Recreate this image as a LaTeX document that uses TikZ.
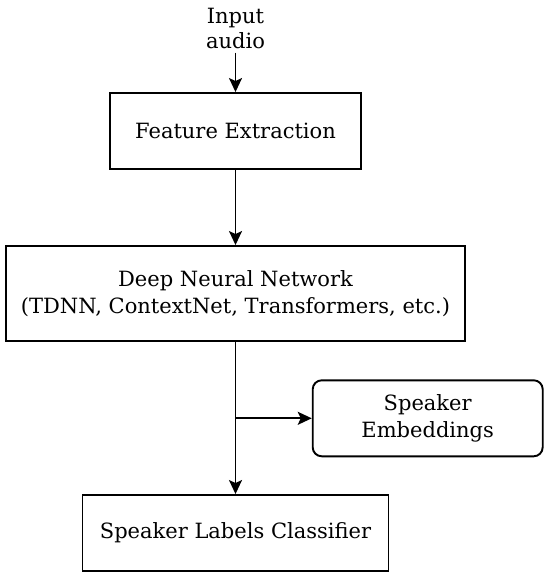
\documentclass[tikz,border=0pt]{standalone}
\usepackage{fontspec}
\setmainfont{DejaVu Serif}
\usetikzlibrary{arrows.meta,calc}
\begin{document}
\begin{tikzpicture}[x=1pt,y=-1pt,
  box/.style={draw=black, line width=1.9pt, rectangle, align=center, inner sep=0pt, font=\fontsize{21}{27}\selectfont},
  conn/.style={line width=1.9pt, -{Stealth[length=14pt,width=13pt,inset=3pt]}},
  lbl/.style={align=center, inner sep=0pt, font=\fontsize{21}{25}\selectfont}]
\useasboundingbox (0,0) rectangle (550,578);
\node[lbl] (in) at (235.5,28) {Input\\audio};
\node[box, minimum width=251pt, minimum height=76pt] (feat) at (235.5,131) {Feature Extraction};
\node[box, minimum width=459pt, minimum height=95pt] (dnn) at (235.5,293.5) {Deep Neural Network\\(TDNN, ContextNet, Transformers, etc.)};
\node[box, rounded corners=9pt, minimum width=230pt, minimum height=76pt] (emb) at (427.7,418.3) {Speaker\\Embeddings};
\node[box, minimum width=306pt, minimum height=76pt] (cls) at (235.5,533) {Speaker Labels Classifier};
\coordinate (br) at (dnn.south |- emb.west);
\draw[conn, shorten <=4pt] (in.south) -- (feat.north);
\draw[conn] (feat.south) -- (dnn.north);
\draw[conn] (dnn.south) -- (cls.north);
\draw[conn] (br) -- (emb.west);
\end{tikzpicture}
\end{document}
